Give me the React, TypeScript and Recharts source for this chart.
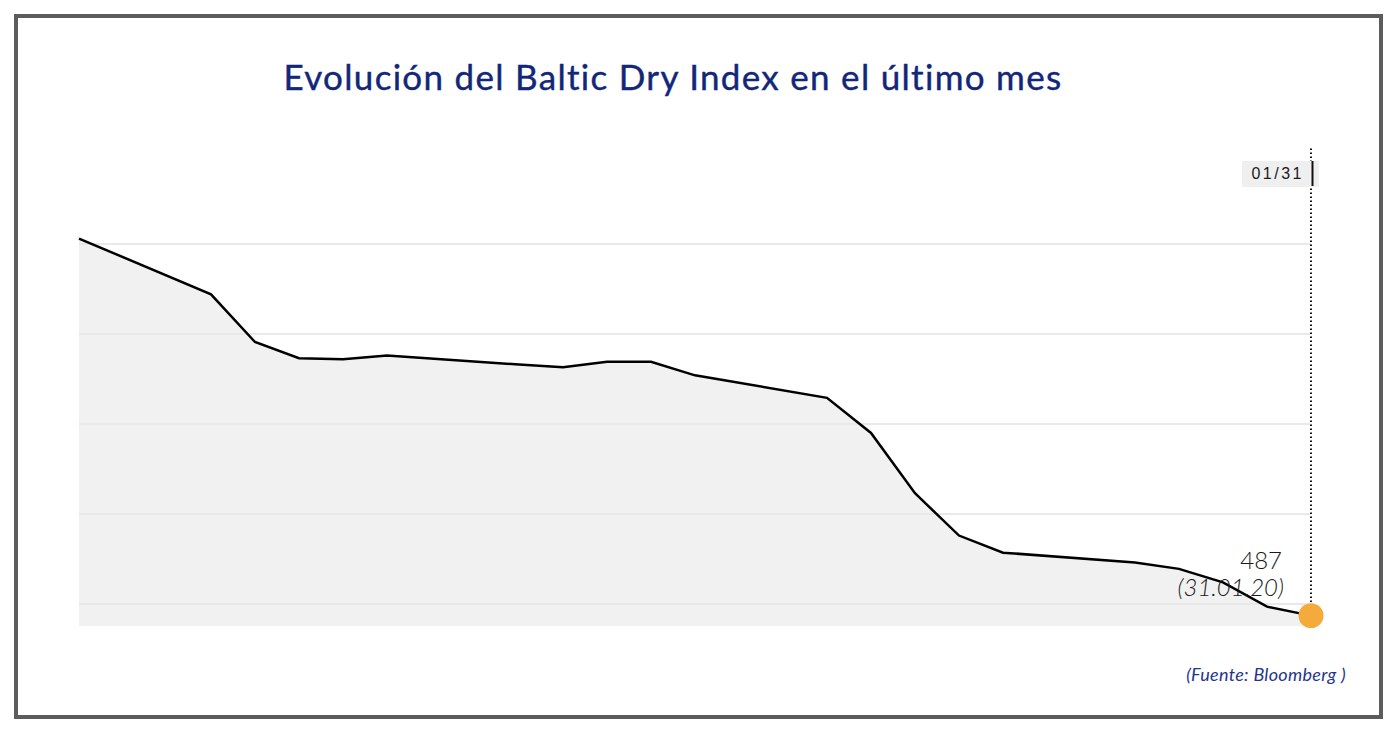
import { FC } from "react";
import {
  ComposedChart,
  Area,
  XAxis,
  YAxis,
  CartesianGrid,
  ReferenceLine,
  ReferenceDot,
} from "recharts";

// trading days of January 2020 (day of month)
const days = [3, 6, 7, 8, 9, 10, 13, 14, 15, 16, 17, 20, 21, 22, 23, 24, 27, 28, 29, 30, 31];
// Baltic Dry Index closes
const bdi = [906, 844, 791, 773, 772, 776, 766, 763, 769, 769, 754, 729, 690, 623, 576, 557, 546, 539, 524, 497, 487];
const gridTicks = [500, 600, 700, 800, 900];
const yDomain = [475.5, 1006.6];

const lastDay = days[days.length - 1];
const lastValue = bdi[bdi.length - 1];
const lastDayLabel = "01/31";
const lastDateLabel = "(31.01.20)";

const data = days.map((d, i) => ({ day: d, value: bdi[i] }));

// grid only at the round values, not at the plot edges
const gridRows = ({ yAxis, offset }: any) => {
  if (yAxis && typeof yAxis.scale === "function") {
    return gridTicks.map((t) => yAxis.scale(t));
  }
  const [lo, hi] = yDomain;
  return gridTicks.map((t) => offset.top + (offset.height * (hi - t)) / (hi - lo));
};

const CursorLabel = (props: any) => {
  const { x, y } = props.viewBox;
  return (
    <g>
      <rect x={x - 69} y={y + 13} width={77} height={26} fill="#efefef" />
      <text
        x={x - 7}
        y={y + 31}
        textAnchor="end"
        fontFamily="'Liberation Sans', Arial, sans-serif"
        fontSize={16}
        letterSpacing={2.5}
        fill="#1a1a1a"
      >
        {lastDayLabel}
      </text>
      <line x1={x + 1.5} x2={x + 1.5} y1={y + 13} y2={y + 38} stroke="#111" strokeWidth={2} />
    </g>
  );
};

const ValueLabel = (props: any) => {
  const { x, y, width, height } = props.viewBox;
  const cx = x + width / 2;
  const cy = y + height / 2;
  return (
    <g fontFamily="Lato, sans-serif" fontWeight={300} fill="#1a1a1a" fontSize={24}>
      <text x={cx - 29} y={cy - 47} textAnchor="end">
        {lastValue}
      </text>
      <text x={cx - 27} y={cy - 20} textAnchor="end" fontStyle="italic">
        {lastDateLabel}
      </text>
    </g>
  );
};

const App: FC = () => {
  return (
    <div style={{ position: "relative", width: 1384, height: 725 }}>
      <div
        style={{
          position: "absolute",
          left: 6,
          top: 6,
          width: 1369,
          height: 705,
          border: "4px solid #5c5c5c",
          boxSizing: "border-box",
          background: "#fff",
        }}
      />
      <div
        style={{
          position: "absolute",
          left: 165,
          top: 47,
          width: 1000,
          textAlign: "center",
          fontFamily: "Lato, sans-serif",
          fontSize: 35,
          letterSpacing: 1.3,
          color: "#12267a",
          whiteSpace: "nowrap",
          WebkitTextStroke: "0.4px #12267a",
        }}
      >
        Evolución del Baltic Dry Index en el último mes
      </div>
      <div style={{ position: "absolute", left: -8, top: -8 }}>
        <ComposedChart
          width={1400}
          height={733}
          data={data}
          margin={{ top: 148, left: 79, right: 89, bottom: 107 }}
        >
          <CartesianGrid
            vertical={false}
            stroke="#e2e2e2"
            strokeWidth={1.5}
            horizontalCoordinatesGenerator={gridRows}
          />
          <XAxis dataKey="day" type="number" domain={[3, 31]} hide />
          <YAxis type="number" domain={yDomain} ticks={gridTicks} hide />
          <Area
            type="linear"
            dataKey="value"
            stroke="#000"
            strokeWidth={2.5}
            fill="#e8e8e8"
            fillOpacity={0.6}
            dot={false}
            activeDot={false}
            isAnimationActive={false}
          />
          <ReferenceLine
            x={lastDay}
            stroke="#111"
            strokeWidth={2}
            strokeDasharray="1.5 2.5"
            label={<CursorLabel />}
          />
          <ReferenceDot
            x={lastDay}
            y={lastValue}
            r={12.5}
            fill="#f4ab3b"
            stroke="none"
            label={<ValueLabel />}
          />
        </ComposedChart>
      </div>
      <div
        style={{
          position: "absolute",
          right: 1384 - 1338,
          top: 655,
          fontFamily: "Lato, sans-serif",
          fontStyle: "italic",
          fontSize: 18,
          letterSpacing: 0.3,
          color: "#1f358c",
          whiteSpace: "nowrap",
        }}
      >
        (Fuente: Bloomberg )
      </div>
    </div>
  );
};

export default App;
